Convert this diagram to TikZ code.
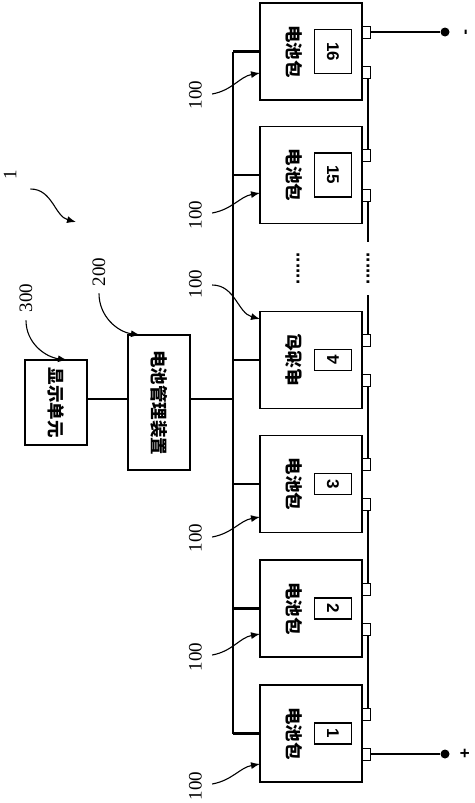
\documentclass[tikz,border=0pt]{standalone}
\usepackage{fontspec}
\setmainfont{Liberation Serif}
\newfontfamily\cjkfont{Noto Sans CJK SC}
\newfontfamily\numfont{Liberation Sans}
\usetikzlibrary{arrows.meta}
\tikzset{
 packbox/.style={draw, line width=1.2pt, minimum width=102pt, minimum height=97pt, inner sep=0pt, outer sep=0pt},
 term/.style={draw, line width=1pt, minimum width=8pt, minimum height=12pt, inner sep=0pt, outer sep=0pt, fill=white},
 cjktext/.style={font=\cjkfont\bfseries\fontsize{17.5}{19}\selectfont, inner sep=1pt},
 unitbox/.style={draw, line width=1.3pt, minimum height=62pt, inner sep=0pt, outer sep=0pt, rotate=-90, font=\cjkfont\bfseries\fontsize{17.5}{19}\selectfont},
 numbox/.style={draw, line width=1.6pt, minimum height=37pt, inner sep=0pt, outer sep=0pt, font=\numfont\bfseries\fontsize{17}{19}\selectfont},
 reflabel/.style={font=\fontsize{19}{21}\selectfont, rotate=90, inner sep=6pt},
 refarrow/.style={line width=1.1pt, -{Latex[length=9pt,width=7pt]}},
 wire/.style={line width=1.2pt},
 busline/.style={line width=2.2pt},
 dotnode/.style={circle, fill, inner sep=0pt, minimum size=9pt},
 dotstext/.style={font=\numfont\bfseries\fontsize{19}{21}\selectfont, rotate=-90, inner sep=0pt},
 signtext/.style={font=\numfont\bfseries\fontsize{17}{19}\selectfont, rotate=-90, inner sep=0pt},
}
% #1 name, #2 centre y, #3 text rotation, #4 number, #5 number box length
\newcommand\mypack[5]{%
 \node[packbox] (p#1) at (311,-#2) {};
 \node[term] (p#1a) at ([xshift=4pt,yshift=19.5pt]p#1.east) {};
 \node[term] (p#1b) at ([xshift=4pt,yshift=-20.5pt]p#1.east) {};
 \node[cjktext, rotate=#3] (p#1t) at (294,-#2) {电池包};
 \node[numbox, rotate=#3, minimum width=#5pt] (p#1n) at (333,-#2) {#4};
 \draw[busline] (p#1.west) -- (p#1.west -| bustop);
}
\begin{document}
\begin{tikzpicture}[x=1pt,y=1pt]
\useasboundingbox (0,0) rectangle (474,-803);
\coordinate (bustop) at (233,-51.5);
\coordinate (busbot) at (233,-733.5);
\draw[busline] (bustop) -- (busbot);

\mypack{16}{51.5}{-90}{16}{44}
\mypack{15}{175}{-90}{15}{44}
\mypack{4}{360}{90}{4}{21}
\mypack{3}{484}{-90}{3}{21}
\mypack{2}{608.5}{-90}{2}{21}
\mypack{1}{733.5}{-90}{1}{21}

% series wiring
\draw[wire] ([xshift=2pt]p16b.south) -- ([xshift=2pt]p15a.north);
\coordinate (gapa) at (368,-242);
\coordinate (gapb) at (368,-295);
\draw[wire] ([xshift=2pt]p15b.south) -- (gapa);
\draw[wire] (gapb) -- ([xshift=2pt]p4a.north);
\draw[wire] ([xshift=2pt]p4b.south) -- ([xshift=2pt]p3a.north);
\draw[wire] ([xshift=2pt]p3b.south) -- ([xshift=2pt]p2a.north);
\draw[wire] ([xshift=2pt]p2b.south) -- ([xshift=2pt]p1a.north);
\node[dotstext] (dotsr) at (368,-268.5) {......};
\node[dotstext] (dotsl) at (298,-268.5) {......};

% terminals
\node[dotnode] (minus) at (445,-32) {};
\node[dotnode] (plus) at (445,-754) {};
\draw[wire] (p16a.east) -- (minus);
\draw[wire] (p1b.east) -- (plus);
\node[signtext] (minussign) at (464,-32) {-};
\node[signtext] (plussign) at (464,-753) {+};

% management and display
\node[unitbox, minimum width=135pt] (bms) at (159,-402.5) {电池管理装置};
\node[unitbox, minimum width=85pt] (disp) at (56,-402.5) {显示单元};
\coordinate (lvl) at (0,-399);
\draw[wire] (disp.north |- lvl) -- (bms.south |- lvl);
\draw[wire] (bms.north |- lvl) -- (bustop |- lvl);

% reference labels
\node[reflabel] (l16) at (195.5,-95) {100};
\node[reflabel] (l15) at (195.5,-215) {100};
\node[reflabel] (l4) at (195.5,-284) {100};
\node[reflabel] (l3) at (195.5,-538) {100};
\node[reflabel] (l2) at (195.5,-657) {100};
\node[reflabel] (l1) at (195.5,-786) {100};
\draw[refarrow] ([xshift=4pt,yshift=1pt]l16.south) to[out=10,in=190] ([yshift=-21.5pt]p16.west);
\draw[refarrow] ([xshift=4pt,yshift=2pt]l15.south) to[out=10,in=190] ([yshift=-18pt]p15.west);
\draw[refarrow] ([xshift=4pt,yshift=-1pt]l4.south) to[out=0,in=165] ([yshift=41pt]p4.west);
\draw[refarrow] ([xshift=4pt,yshift=1pt]l3.south) to[out=10,in=190] ([yshift=-33pt]p3.west);
\draw[refarrow] ([xshift=4pt,yshift=2pt]l2.south) to[out=10,in=190] ([yshift=-25.5pt]p2.west);
\draw[refarrow] ([xshift=4pt,yshift=2pt]l1.south) to[out=10,in=190] ([yshift=-30.5pt]p1.west);

\node[reflabel] (l300) at (26,-298) {300};
\node[reflabel] (l200) at (99,-272) {200};
\draw[refarrow] ([yshift=-2pt]l300.west) to[out=-90,in=172] ([xshift=11pt]disp.west);
\draw[refarrow] ([yshift=-1pt]l200.west) to[out=-90,in=172] ([xshift=-19pt]bms.west);

\node[reflabel] (lsys) at (10,-175) {1};
\coordinate (sys) at (76,-222);
\draw[refarrow] ([xshift=8pt,yshift=-14pt]lsys.south) to[out=0,in=165] (sys);
\end{tikzpicture}
\end{document}
